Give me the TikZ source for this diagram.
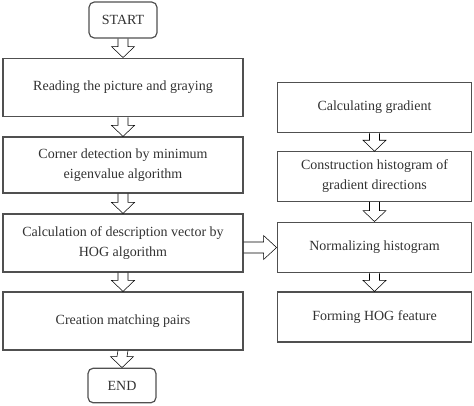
\documentclass[tikz,border=0pt]{standalone}
\usepackage{fontspec}
\setmainfont{Liberation Serif}
\definecolor{flowline}{RGB}{80,80,80}
\definecolor{flowtext}{RGB}{50,50,50}
\usetikzlibrary{calc}

\begin{document}
\begin{tikzpicture}[x=0.75pt,y=-0.75pt,font=\fontsize{10.5}{15}\selectfont,
  box/.style={draw=flowline,line width=0.9pt,text=flowtext,align=center,inner sep=0pt},
  terminal/.style={box,rounded corners=4pt,minimum width=51pt,minimum height=27pt},
  step left/.style={box,minimum width=180pt,minimum height=43.5pt},
  step right/.style={box,minimum width=146pt,minimum height=38pt},
  hollow down/.style={draw=flowline,line width=0.8pt,line join=miter,to path={
    ($(\tikztostart)+(-5,0)$) -- ($(\tikztotarget)+(-5,-11)$) -- ($(\tikztotarget)+(-11.5,-11)$)
    -- (\tikztotarget) -- ($(\tikztotarget)+(11.5,-11)$) -- ($(\tikztotarget)+(5,-11)$)
    -- ($(\tikztostart)+(5,0)$)}},
  hollow right/.style={draw=flowline,line width=0.8pt,line join=miter,to path={
    ($(\tikztostart)+(0,-5.5)$) -- ($(\tikztotarget)+(-13,-5.5)$) -- ($(\tikztotarget)+(-13,-12)$)
    -- (\tikztotarget) -- ($(\tikztotarget)+(-13,12)$) -- ($(\tikztotarget)+(-13,5.5)$)
    -- ($(\tikztostart)+(0,5.5)$)}}]
  \useasboundingbox (0,0) rectangle (474,405);
  % main flow
  \node[terminal] (start) at (123,20) {START};
  \node[step left,minimum height=44pt] (read) at (123,87.5) {Reading the picture and graying};
  \node[step left,minimum height=42pt] (corner) at (123,165) {Corner detection by minimum\\eigenvalue algorithm};
  \node[step left] (hog) at (123,243) {Calculation of description vector by\\HOG algorithm};
  \node[step left] (match) at (123,321) {Creation matching pairs};
  \node[terminal,minimum height=26pt] (end) at (122,385.5) {END};
  \draw (start.south) to[hollow down] (read.north);
  \draw (read.south) to[hollow down] (corner.north);
  \draw (corner.south) to[hollow down] (hog.north);
  \draw (hog.south) to[hollow down] (match.north);
  \draw (match.south) to[hollow down] (end.north);
  % HOG steps
  \node[step right] (grad) at (374.5,107.5) {Calculating gradient};
  \node[step right,minimum height=37pt] (hist) at (374.5,176.5) {Construction histogram of\\gradient directions};
  \node[step right] (norm) at (374.5,247.5) {Normalizing histogram};
  \node[step right,minimum height=37.5pt] (feat) at (374.5,317) {Forming HOG feature};
  \draw (grad.south) to[hollow down] (hist.north);
  \draw (hist.south) to[hollow down] (norm.north);
  \draw (norm.south) to[hollow down] (feat.north);
  \draw (norm.west -| hog.east) to[hollow right] (norm.west);
\end{tikzpicture}
\end{document}
